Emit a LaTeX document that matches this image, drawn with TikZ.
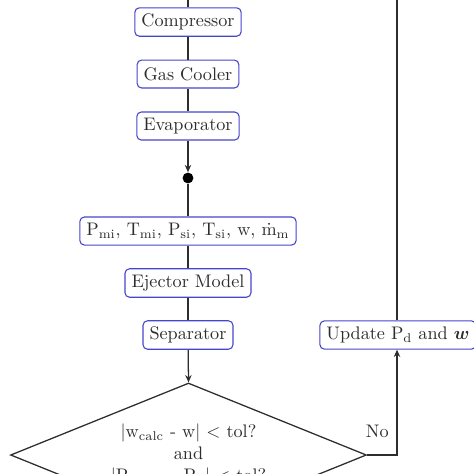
\documentclass[tikz,border=0pt]{standalone}
\definecolor{boxblue}{RGB}{70, 70, 205}
\definecolor{inkgray}{RGB}{45, 45, 45}
\usepackage{tikz}
\usetikzlibrary{shapes.geometric, arrows.meta, positioning, calc}
\usepackage{amsmath, amssymb}

\begin{document}
\begin{tikzpicture}[
    block/.style={draw=boxblue, semithick, rounded corners=2.5pt, fill=white,
      text=inkgray, minimum height=0.54cm, inner xsep=3.6pt},
    link/.style={draw=inkgray, line width=0.7pt},
    >={Stealth[length=4pt, width=3.5pt]}
  ]
  \useasboundingbox (0, 0) rectangle (9.163, 9.163);

  % Main column
  \node[block] (comp) at (3.634, 8.737) {Compressor};
  \node[block] (gasc) at (3.634, 7.732) {Gas Cooler};
  \node[block] (evap) at (3.634, 6.727) {Evaporator};
  \node[circle, fill=black, inner sep=0pt, minimum size=0.21cm] (join) at (3.634, 5.722) {};
  \node[block] (inputs) at (3.634, 4.697) {P$_{\text{mi}}$, T$_{\text{mi}}$, P$_{\text{si}}$, T$_{\text{si}}$, w, $\dot{\text{m}}_{\text{m}}$};
  \node[block] (ejec) at (3.634, 3.692) {Ejector Model};
  \node[block] (sepr) at (3.634, 2.687) {Separator};

  % Convergence check
  \node[diamond, draw=inkgray, line width=0.7pt, aspect=2.47, minimum width=6.88cm,
    minimum height=2.784cm, inner sep=0pt, text=inkgray, align=center] (check) at (3.644, 0.367)
    {$|$w$_{\text{calc}}$ - w$|$ $<$ tol?\\and\\$|$P$_{\text{d,calc}}$ - P$_{\text{d}}|$ $<$ tol?};

  % Update branch
  \node[block] (upd) at (7.693, 2.687) {Update P$_{\text{d}}$ and $\boldsymbol{w}$};
  \coordinate (ctop) at (3.634, 9.163);
  \coordinate (rtop) at (7.675, 9.163);

  % Connectors
  \draw[link] (ctop) -- (comp);
  \draw[link] (comp) -- (gasc);
  \draw[link] (gasc) -- (evap);
  \draw[link, ->] (evap) -- (join);
  \draw[link] (join) -- (inputs);
  \draw[link] (inputs) -- (ejec);
  \draw[link] (ejec) -- (sepr);
  \draw[link, ->] (sepr) -- (check.north);
  \draw[link, ->] (check.east) -| node[above=6pt, pos=0.17, text=inkgray] {No} (upd.south -| rtop);
  \draw[link] (upd.north -| rtop) -- (rtop);
\end{tikzpicture}
\end{document}
